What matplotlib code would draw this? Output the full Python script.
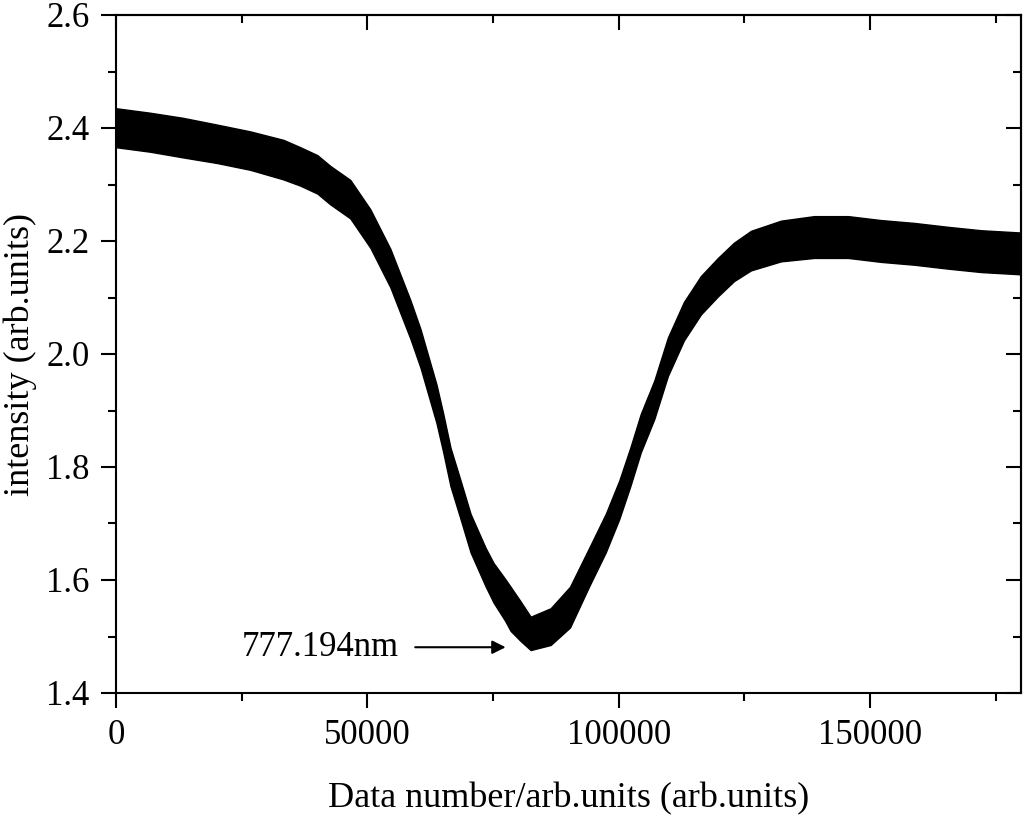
import matplotlib
matplotlib.use("Agg")
import matplotlib.pyplot as plt
from matplotlib.ticker import MultipleLocator

plt.rcParams['font.family'] = ['Liberation Serif', 'DejaVu Serif']

# Data (x in data number, band edges in intensity)
x_vals = [0, 6800, 13300, 20100, 26700, 33300, 36650, 40040, 42600, 46600,
          50590, 54570, 58560, 60560, 63740, 65040, 66530, 68530, 70520,
          73500, 75100, 77390, 78480, 80480, 82470, 86450, 90300, 94120,
          97410, 100100, 102290, 104380, 107070, 109760, 112950, 116330,
          119720, 122910, 126290, 132270, 138840, 145620, 152190, 158760,
          165540, 172110, 180000]
upper_vals = [2.435, 2.427, 2.418, 2.406, 2.394, 2.379, 2.366, 2.352, 2.333,
              2.308, 2.256, 2.186, 2.095, 2.044, 1.946, 1.896, 1.834, 1.776,
              1.717, 1.657, 1.630, 1.602, 1.588, 1.562, 1.535, 1.550, 1.588,
              1.657, 1.717, 1.776, 1.834, 1.894, 1.953, 2.029, 2.092, 2.138,
              2.170, 2.197, 2.218, 2.236, 2.244, 2.244, 2.237, 2.232, 2.225,
              2.219, 2.215]
lower_vals = [2.366, 2.358, 2.348, 2.338, 2.326, 2.309, 2.298, 2.284, 2.265,
              2.240, 2.188, 2.118, 2.027, 1.976, 1.878, 1.828, 1.766, 1.708,
              1.649, 1.589, 1.560, 1.528, 1.510, 1.492, 1.476, 1.485, 1.516,
              1.589, 1.649, 1.708, 1.766, 1.826, 1.885, 1.961, 2.024, 2.070,
              2.102, 2.129, 2.148, 2.164, 2.170, 2.170, 2.163, 2.158, 2.151,
              2.145, 2.141]

annot_text = "777.194nm"
annot_xy = (77500, 1.481)
annot_text_xy = (56200, 1.481)

x_ticks = [0, 50000, 100000, 150000]
y_ticks = [1.4, 1.6, 1.8, 2.0, 2.2, 2.4, 2.6]

fig = plt.figure(figsize=(10.25, 8.18), dpi=100)
ax = fig.add_axes([116/1025, 1-693/818, (1021-116)/1025, (693-15)/818])

ax.fill_between(x_vals, lower_vals, upper_vals, facecolor='black',
                edgecolor='black', lw=1.0)

ax.set_xlim(0, 180000)
ax.set_ylim(1.4, 2.6)
ax.set_xticks(x_ticks)
ax.set_xticklabels([str(t) for t in x_ticks])
ax.set_yticks(y_ticks)
ax.set_yticklabels([f"{t:.1f}" for t in y_ticks])
ax.xaxis.set_minor_locator(MultipleLocator(25000))
ax.yaxis.set_minor_locator(MultipleLocator(0.1))

for s in ax.spines.values():
    s.set_linewidth(1.5)

ax.tick_params(which='both', direction='out', width=1.5, labelsize=25,
               top=False, right=False)
ax.tick_params(which='major', length=11, pad=8)
ax.tick_params(which='minor', length=6)

# mirrored inward ticks on top and right
axt = ax.secondary_xaxis('top')
axt.set_xticks(x_ticks)
axt.xaxis.set_minor_locator(MultipleLocator(25000))
axt.tick_params(which='both', direction='in', width=1.5, labeltop=False)
axt.tick_params(which='major', length=11)
axt.tick_params(which='minor', length=6)
axt.spines['top'].set_linewidth(1.5)
axr = ax.secondary_yaxis('right')
axr.set_yticks(y_ticks)
axr.yaxis.set_minor_locator(MultipleLocator(0.1))
axr.tick_params(which='both', direction='in', width=1.5, labelright=False)
axr.tick_params(which='major', length=11)
axr.tick_params(which='minor', length=6)
axr.spines['right'].set_linewidth(1.5)

ax.set_xlabel("Data number/arb.units (arb.units)", fontsize=26)
ax.set_ylabel("intensity (arb.units)", fontsize=26)
ax.xaxis.set_label_coords(0.5, -0.132)
ax.yaxis.set_label_coords(-0.087, 0.5)

ax.annotate(annot_text, xy=annot_xy, xytext=annot_text_xy,
            ha='right', va='center', fontsize=25,
            arrowprops=dict(arrowstyle='-|>', color='black', lw=1.5,
                            mutation_scale=20, shrinkA=10, shrinkB=0))

fig.savefig("out.png", dpi=100)
